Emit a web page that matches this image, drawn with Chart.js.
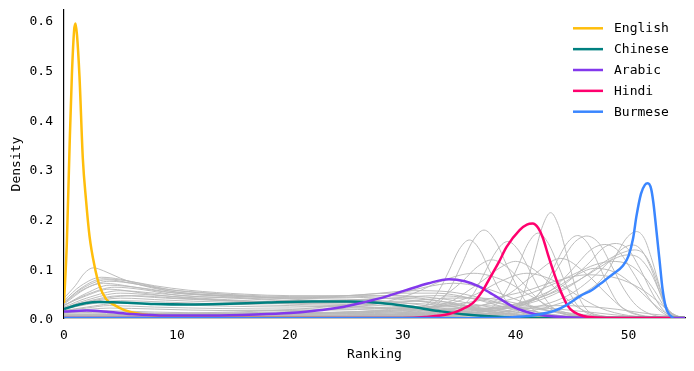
<!DOCTYPE html>
<html>
<head>
<meta charset="utf-8">
<script src="https://cdn.jsdelivr.net/npm/chart.js@4/dist/chart.umd.min.js"></script>
<style>
  html, body { margin: 0; padding: 0; background: #fff; }
  #wrap { width: 694px; height: 371px; }
</style>
</head>
<body>
<div id="wrap"><canvas id="c" width="694" height="371"></canvas></div>
<script>
// ---------- data ----------
const languages = ['English', 'Chinese', 'Arabic', 'Hindi', 'Burmese'];
const languageColors = ['#FFBE0B', '#008080', '#8338EC', '#FF006E', '#3A86FF'];
const xTicks = [0, 10, 20, 30, 40, 50];
const yTicks = [0.0, 0.1, 0.2, 0.3, 0.4, 0.5, 0.6];

// [ranking, density] pairs
const englishDensity = [[0,0.03],[0.25,0.15],[0.5,0.35],[0.7,0.49],[0.9,0.58],[1.02,0.593],[1.15,0.57],[1.37,0.487],[1.67,0.32],[1.96,0.235],[2.26,0.165],[2.7,0.105],[3.14,0.065],[3.73,0.038],[4.47,0.026],[5.36,0.016],[6.5,0.009],[8,0.005],[10,0.003],[15,0.001],[25,0],[55,0]];
const chineseDensity = [[0,0.018],[1,0.025],[2,0.03],[3,0.032],[5,0.031],[8,0.028],[11,0.027],[14,0.028],[18,0.031],[22,0.033],[25,0.033],[28,0.03],[30.3,0.024],[33.2,0.014],[35.6,0.007],[38,0.003],[40,0.001],[43,0],[55,0]];
const arabicDensity = [[0,0.013],[2,0.015],[4,0.012],[6,0.008],[9,0.005],[13,0.005],[17,0.007],[20,0.01],[22,0.014],[24.4,0.021],[26.8,0.033],[28.5,0.043],[30.3,0.056],[32.3,0.07],[34.1,0.078],[35.5,0.074],[36.7,0.064],[37.7,0.051],[38.8,0.036],[39.75,0.023],[40.6,0.015],[41.5,0.009],[43,0.004],[45,0.001],[47,0],[55,0]];
const hindiDensity = [[0,0],[30,0],[32,0.002],[34.1,0.008],[35.2,0.017],[36.2,0.03],[37,0.052],[37.7,0.08],[38.5,0.112],[39.2,0.143],[40.35,0.177],[41,0.188],[41.5,0.19],[42,0.181],[42.4,0.162],[42.9,0.125],[43.3,0.097],[43.8,0.065],[44.2,0.043],[44.6,0.025],[45.1,0.013],[46,0.004],[47,0.001],[48,0],[53.8,0]];
const burmeseDensity = [[0,0],[38,0],[40,0.002],[41.8,0.006],[43.5,0.015],[44.5,0.026],[45.7,0.044],[46.8,0.057],[47.5,0.069],[48.6,0.088],[49.5,0.105],[50.0,0.125],[50.4,0.16],[50.7,0.205],[51.1,0.25],[51.45,0.268],[51.7,0.271],[52.0,0.26],[52.2,0.232],[52.45,0.18],[52.75,0.115],[53.0,0.06],[53.3,0.022],[53.55,0.009],[53.85,0.002],[53.95,0]];

// the other languages (grey)
const otherLanguageCurves = [
  [[0,0.04],[1,0.065],[1.8,0.09],[2.6,0.101],[3.5,0.095],[5,0.08],[7,0.065],[10,0.052],[15,0.045],[20,0.04],[25,0.038],[28,0.035],[31,0.028],[34,0.018],[38,0.005],[42,0.001],[55,0]],
  [[0,0.035],[1.5,0.065],[3.3,0.082],[5,0.078],[7,0.068],[10,0.055],[15,0.047],[20,0.043],[25,0.042],[28,0.04],[31,0.035],[34,0.025],[38,0.01],[42,0.002],[55,0]],
  [[0,0.03],[1.5,0.06],[3.5,0.079],[5.5,0.075],[8,0.065],[11,0.056],[16,0.048],[20,0.045],[25,0.045],[29,0.045],[33,0.035],[36,0.022],[39,0.01],[43,0.002],[55,0]],
  [[0,0.032],[1.5,0.058],[3.8,0.077],[6,0.07],[9,0.058],[13,0.05],[20,0.038],[25,0.033],[29,0.028],[33,0.018],[37,0.006],[41,0.001],[55,0]],
  [[0,0.028],[2,0.06],[4,0.074],[6.5,0.068],[10,0.052],[15,0.044],[20,0.04],[25,0.042],[29,0.045],[33,0.04],[37,0.025],[40,0.012],[44,0.002],[55,0]],
  [[0,0.03],[1.5,0.055],[3.5,0.07],[6,0.063],[9,0.052],[13,0.045],[20,0.035],[25,0.032],[29,0.028],[33,0.018],[37,0.006],[41,0.001],[55,0]],
  [[0,0.025],[2,0.05],[4,0.066],[7,0.06],[10,0.05],[15,0.044],[20,0.042],[25,0.045],[29,0.05],[33,0.05],[36,0.04],[39,0.022],[42,0.008],[46,0.001],[55,0]],
  [[0,0.025],[2,0.047],[4.5,0.062],[7,0.057],[10,0.046],[15,0.04],[20,0.035],[25,0.036],[29,0.04],[33,0.035],[37,0.02],[40,0.009],[44,0.001],[55,0]],
  [[0,0.026],[2,0.045],[4,0.058],[7,0.05],[10,0.042],[15,0.035],[20,0.03],[25,0.027],[29,0.024],[33,0.015],[37,0.005],[41,0.001],[55,0]],
  [[0,0.022],[2,0.04],[5,0.055],[8,0.05],[12,0.043],[17,0.04],[22,0.041],[27,0.048],[31,0.055],[34,0.053],[37,0.04],[40,0.022],[43,0.007],[47,0.001],[55,0]],
  [[0,0.02],[2,0.036],[5,0.05],[8,0.046],[12,0.04],[17,0.034],[22,0.03],[27,0.033],[31,0.034],[35,0.025],[38,0.012],[42,0.003],[55,0]],
  [[0,0.02],[2,0.033],[5,0.045],[9,0.04],[14,0.035],[20,0.032],[25,0.035],[29,0.04],[33,0.045],[36,0.04],[39,0.027],[42,0.012],[45,0.003],[55,0]],
  [[0,0.02],[2,0.03],[5,0.04],[9,0.036],[14,0.032],[20,0.03],[25,0.03],[30,0.03],[34,0.024],[38,0.012],[42,0.003],[55,0]],
  [[0,0.018],[2,0.027],[5,0.035],[9,0.032],[14,0.028],[20,0.025],[25,0.022],[30,0.02],[34,0.016],[38,0.008],[42,0.002],[55,0]],
  [[0,0.015],[2,0.022],[5,0.03],[9,0.027],[14,0.024],[20,0.022],[25,0.025],[30,0.032],[34,0.04],[37,0.04],[40,0.03],[43,0.015],[46,0.004],[55,0]],
  [[0,0.015],[2,0.02],[4,0.025],[8,0.022],[14,0.019],[20,0.018],[25,0.018],[30,0.02],[34,0.02],[38,0.016],[42,0.008],[46,0.002],[55,0]],
  [[0,0.012],[2,0.017],[4,0.02],[8,0.018],[14,0.015],[20,0.015],[26,0.017],[31,0.021],[36,0.025],[40,0.022],[44,0.012],[48,0.003],[55,0]],
  [[0,0.01],[3,0.015],[8,0.012],[14,0.01],[20,0.01],[26,0.012],[32,0.016],[37,0.02],[42,0.02],[46,0.013],[50,0.004],[55,0.001]],
  [[0,0.02],[2,0.032],[6,0.045],[10,0.04],[15,0.034],[20,0.028],[25,0.024],[29,0.02],[33,0.013],[37,0.005],[41,0.001],[55,0]],
  [[0,0.01],[5,0.012],[10,0.008],[20,0.008],[28,0.01],[34,0.014],[39,0.02],[44,0.025],[48,0.02],[52,0.008],[55,0.002]],
  [[0,0.004],[20,0.004],[28,0.006],[30.5,0.012],[32.3,0.03],[33.2,0.055],[34.1,0.095],[35.0,0.138],[35.9,0.157],[36.8,0.138],[37.7,0.095],[38.6,0.055],[39.5,0.025],[41.3,0.005],[43,0.001],[55,0]],
  [[0,0.003],[20,0.004],[29,0.007],[31.2,0.012],[33.2,0.03],[34.2,0.06],[35.2,0.107],[36.2,0.155],[37.2,0.177],[38.2,0.155],[39.2,0.107],[40.2,0.06],[41.2,0.024],[43.2,0.004],[46,0.001],[55,0]],
  [[0,0.006],[15,0.008],[25,0.012],[30,0.02],[32.7,0.03],[34,0.05],[35.3,0.074],[36.6,0.103],[37.9,0.117],[39.2,0.103],[40.5,0.074],[41.8,0.042],[43.1,0.018],[45,0.005],[48,0.001],[55,0]],
  [[0,0.002],[25,0.004],[31,0.007],[33.3,0.012],[35.3,0.025],[36.3,0.05],[37.3,0.093],[38.3,0.135],[39.3,0.154],[40.3,0.135],[41.3,0.093],[42.3,0.05],[43.3,0.021],[45.3,0.003],[48,0],[55,0]],
  [[0,0.005],[20,0.008],[28,0.015],[32,0.022],[34.4,0.035],[35.8,0.055],[37.2,0.077],[38.6,0.101],[40,0.114],[41.4,0.101],[42.8,0.075],[44.2,0.045],[45.6,0.02],[47.5,0.005],[50,0.001],[55,0]],
  [[0,0.002],[30,0.004],[35,0.008],[37,0.015],[38.4,0.03],[39.3,0.06],[40.2,0.104],[41.1,0.15],[42,0.171],[42.9,0.15],[43.8,0.104],[44.7,0.055],[45.6,0.022],[47.4,0.003],[50,0],[55,0]],
  [[0,0.001],[30,0.003],[37,0.006],[38.9,0.012],[40.3,0.03],[41,0.07],[41.7,0.13],[42.4,0.186],[43.1,0.212],[43.8,0.186],[44.5,0.13],[45.2,0.07],[45.9,0.029],[47.3,0.004],[50,0],[55,0]],
  [[0,0.002],[30,0.004],[38,0.01],[40,0.02],[41.7,0.04],[42.7,0.07],[43.6,0.112],[44.6,0.152],[45.5,0.166],[46.4,0.15],[47.4,0.105],[48.3,0.06],[49.2,0.026],[51,0.005],[53,0.001],[55,0]],
  [[0,0.002],[30,0.005],[37,0.012],[40,0.025],[41.9,0.045],[43,0.075],[44.1,0.115],[45.2,0.152],[46.3,0.165],[47.4,0.15],[48.5,0.105],[49.6,0.058],[50.7,0.025],[52.5,0.004],[54,0.001],[55,0]],
  [[0,0.002],[30,0.006],[38,0.015],[41,0.03],[43.1,0.055],[44.3,0.08],[45.5,0.11],[46.7,0.138],[47.9,0.148],[49.1,0.135],[50.3,0.095],[51.5,0.05],[52.6,0.018],[53.6,0.004],[55,0]],
  [[0,0.003],[30,0.007],[38,0.018],[41,0.032],[43.5,0.055],[45,0.08],[46.6,0.113],[47.7,0.14],[48.8,0.15],[49.9,0.14],[51,0.1],[52.1,0.05],[53,0.018],[53.8,0.004],[55,0.001]],
  [[0,0.001],[30,0.003],[40,0.01],[44,0.03],[46,0.05],[47.5,0.075],[48.3,0.1],[49.1,0.135],[49.9,0.163],[50.7,0.174],[51.4,0.16],[52.1,0.115],[52.8,0.06],[53.4,0.02],[54,0.005],[55,0.001]],
  [[0,0.002],[30,0.004],[40,0.015],[43,0.03],[45,0.05],[46.5,0.075],[47.7,0.1],[48.9,0.128],[49.7,0.143],[50.4,0.147],[51.2,0.135],[52,0.1],[52.7,0.055],[53.3,0.02],[54,0.005],[55,0.001]],
  [[0,0.003],[30,0.006],[38,0.015],[42,0.035],[44.5,0.06],[46.5,0.09],[48,0.115],[49.3,0.13],[50.5,0.137],[51.4,0.128],[52.2,0.095],[52.9,0.05],[53.5,0.018],[54.2,0.005],[55,0.001]],
  [[0,0.004],[25,0.008],[35,0.015],[40,0.028],[43,0.048],[45.5,0.075],[47.3,0.1],[48.7,0.119],[49.9,0.127],[51,0.12],[52,0.09],[52.8,0.05],[53.5,0.017],[54.2,0.005],[55,0.001]],
  [[0,0.005],[25,0.01],[35,0.02],[40,0.04],[43,0.065],[45.5,0.092],[47,0.107],[48.5,0.114],[50,0.108],[51.3,0.085],[52.3,0.055],[53.2,0.022],[54,0.006],[55,0.001]],
  [[0,0.006],[20,0.01],[32,0.02],[38,0.04],[41,0.055],[43.5,0.074],[46.4,0.087],[49,0.08],[51,0.06],[52.5,0.035],[53.5,0.015],[54.3,0.004],[55,0.001]],
  [[0,0.008],[15,0.012],[22,0.02],[26,0.03],[29,0.045],[32,0.062],[34.5,0.07],[37,0.062],[39.5,0.042],[42,0.02],[44.5,0.007],[48,0.001],[55,0]],
  [[0,0.006],[15,0.01],[24,0.018],[28,0.03],[31,0.05],[33.5,0.075],[36.3,0.09],[39,0.075],[41.3,0.045],[43.5,0.018],[46,0.004],[50,0],[55,0]],
  [[0,0.004],[20,0.008],[30,0.015],[34,0.028],[36.5,0.048],[38.5,0.072],[41,0.09],[43.5,0.074],[45.5,0.045],[47.5,0.02],[50,0.005],[53,0.001],[55,0]],
  [[0,0.003],[25,0.006],[33,0.012],[37,0.025],[39.5,0.05],[41.5,0.085],[44,0.12],[46.3,0.088],[48,0.05],[49.5,0.02],[51.5,0.004],[55,0]],
  [[0,0.003],[30,0.008],[38,0.02],[41,0.035],[43.5,0.06],[45.5,0.088],[47,0.1],[48.8,0.092],[50.5,0.065],[52,0.033],[53.3,0.01],[54.3,0.002],[55,0]]
];

const highlightedCurves = [englishDensity, chineseDensity, arabicDensity, hindiDensity, burmeseDensity];

// ---------- chart ----------
const FONT = "'DejaVu Sans Mono', monospace";
Chart.defaults.font.family = FONT;
Chart.defaults.font.size = 13;
Chart.defaults.color = '#000';

const toXY = pts => pts.map(p => ({ x: p[0], y: p[1] }));

const datasets = [];
// highlighted: Burmese drawn on top (index 0 = top)
for (let i = languages.length - 1; i >= 0; i--) {
  datasets.push({
    label: languages[i],
    data: toXY(highlightedCurves[i]),
    borderColor: languageColors[i],
    borderWidth: 2.5,
    pointRadius: 0,
    cubicInterpolationMode: 'monotone',
    fill: false,
    order: 0
  });
}
otherLanguageCurves.forEach((c, k) => {
  datasets.push({
    label: 'other' + k,
    data: toXY(c),
    borderColor: 'rgba(185,185,185,0.95)',
    borderWidth: 1,
    pointRadius: 0,
    cubicInterpolationMode: 'monotone',
    fill: false,
    order: 1
  });
});

const insideLegend = {
  id: 'insideLegend',
  afterDraw(chart) {
    const ctx = chart.ctx, ca = chart.chartArea;
    ctx.save();
    ctx.font = '13px ' + FONT;
    ctx.textBaseline = 'middle';
    ctx.textAlign = 'left';
    languages.forEach((name, i) => {
      const y = ca.top + 18.3 + i * 20.85;
      const x0 = ca.right - 112;
      ctx.strokeStyle = languageColors[i];
      ctx.lineWidth = 2.5;
      ctx.beginPath();
      ctx.moveTo(x0, y);
      ctx.lineTo(x0 + 30, y);
      ctx.stroke();
      ctx.fillStyle = '#000';
      ctx.fillText(name, x0 + 41, y + 0.5);
    });
    ctx.restore();
  }
};

new Chart(document.getElementById('c'), {
  type: 'line',
  data: { datasets },
  plugins: [insideLegend],
  options: {
    responsive: false,
    animation: false,
    devicePixelRatio: 1,
    layout: { padding: { top: 10, right: 9, left: 0, bottom: 0 } },
    plugins: { legend: { display: false }, tooltip: { enabled: false } },
    scales: {
      x: {
        type: 'linear',
        min: 0, max: 55,
        afterBuildTicks: s => { s.ticks = xTicks.map(v => ({ value: v })); },
        afterFit: s => { s.height = 53; s.paddingLeft = 0; s.paddingRight = 0; },
        grid: { display: false, drawTicks: false },
        border: { display: true, color: '#000', width: 1.2 },
        ticks: { padding: 10, callback: v => String(v), maxRotation: 0 },
        title: { display: true, text: 'Ranking', padding: { top: 0, bottom: 9 }, font: { size: 13 } }
      },
      y: {
        type: 'linear',
        min: 0, max: 0.62,
        afterBuildTicks: s => { s.ticks = yTicks.map(v => ({ value: v })); },
        afterFit: s => { s.width = 64; s.paddingTop = 0; s.paddingBottom = 0; },
        grid: { display: false, drawTicks: false },
        border: { display: true, color: '#000', width: 1.2 },
        ticks: { padding: 11, labelOffset: 2, callback: v => v.toFixed(1) },
        title: { display: true, text: 'Density', padding: { top: 9, bottom: 0 }, font: { size: 13 } }
      }
    }
  }
});
</script>
</body>
</html>
